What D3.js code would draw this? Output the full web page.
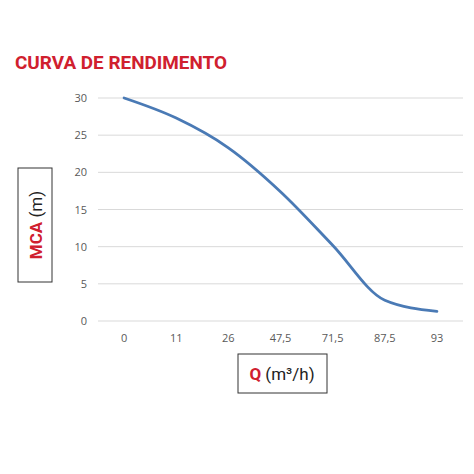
<!DOCTYPE html>
<html><head><meta charset="utf-8">
<script src="https://cdn.jsdelivr.net/npm/d3@7"></script>
<style>body{margin:0;background:#fff}</style>
</head><body>
<svg id="c" width="474" height="474"></svg>
<script>
const categories = ["0","11","26","47,5","71,5","87,5","93"];
const values = [30, 27.3, 23.3, 17.4, 10.2, 2.8, 1.3];
const yTicks = [0,5,10,15,20,25,30];

const svg = d3.select("#c");
const x = d3.scalePoint().domain(categories).range([98,463]).padding(0.5);
const y = d3.scaleLinear().domain([0,30]).range([321,98]);

svg.append("text").attr("x",15).attr("y",69).text("CURVA DE RENDIMENTO")
  .attr("fill","#d0202e").attr("font-family","Roboto, sans-serif").attr("font-weight","bold")
  .attr("font-size",18).attr("textLength",212).attr("lengthAdjust","spacingAndGlyphs");

svg.append("g").selectAll("line").data(yTicks).join("line")
  .attr("x1",98).attr("x2",463).attr("y1",d=>y(d)).attr("y2",d=>y(d))
  .attr("stroke","#d9d9d9").attr("stroke-width",1);
svg.append("g").selectAll("text").data(yTicks).join("text")
  .attr("x",87).attr("y",d=>y(d)+4).attr("text-anchor","end").text(d=>d)
  .attr("fill","#595959").attr("font-family","Open Sans, sans-serif").attr("font-size",11);
svg.append("g").selectAll("text").data(categories).join("text")
  .attr("x",d=>x(d)).attr("y",342).attr("text-anchor","middle").text(d=>d)
  .attr("fill","#595959").attr("font-family","Open Sans, sans-serif").attr("font-size",11);

const line = d3.line().x((d,i)=>x(categories[i])).y(d=>y(d)).curve(d3.curveMonotoneX);
svg.append("path").datum(values).attr("d",line).attr("fill","none")
  .attr("stroke","#4a7ab5").attr("stroke-width",2.8).attr("stroke-linecap","round");

// Y title box
svg.append("rect").attr("x",18).attr("y",168).attr("width",34).attr("height",114)
  .attr("fill","#fff").attr("stroke","#333").attr("stroke-width",1);
const yt = svg.append("text").attr("transform","translate(42,225) rotate(-90)")
  .attr("text-anchor","middle").attr("font-family","Roboto, sans-serif").attr("font-size",17);
yt.append("tspan").text("MCA").attr("fill","#d0202e").attr("font-weight","bold");
yt.append("tspan").text(" (m)").attr("fill","#222");

// X title box
svg.append("rect").attr("x",238).attr("y",354).attr("width",89).attr("height",39)
  .attr("fill","#fff").attr("stroke","#333").attr("stroke-width",1);
const xt = svg.append("text").attr("x",282).attr("y",380)
  .attr("text-anchor","middle").attr("font-family","Roboto, sans-serif").attr("font-size",17);
xt.append("tspan").text("Q").attr("fill","#d0202e").attr("font-weight","bold");
xt.append("tspan").text(" (m³/h)").attr("fill","#222");
</script>
</body></html>
